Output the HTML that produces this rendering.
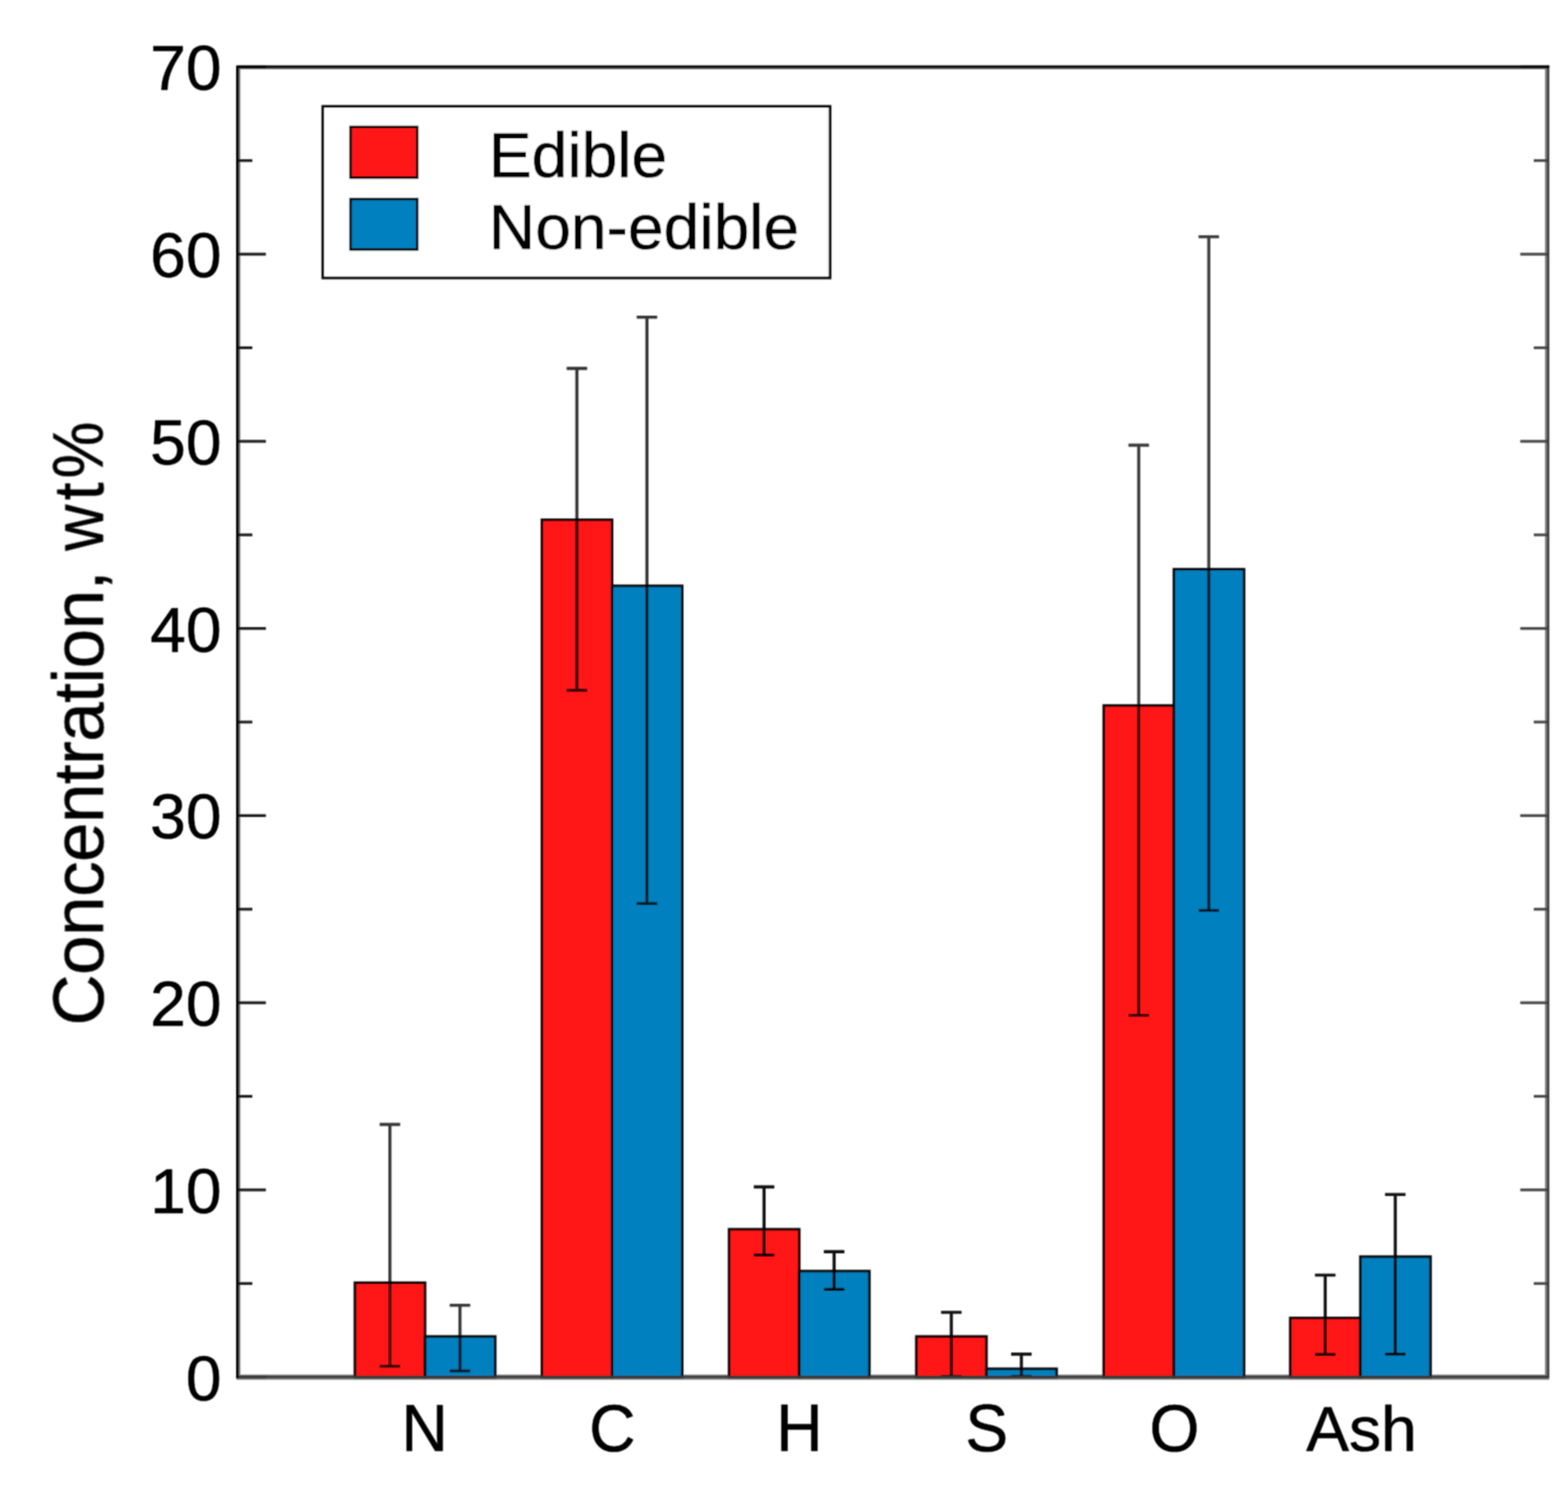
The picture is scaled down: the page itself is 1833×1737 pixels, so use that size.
<!DOCTYPE html>
<html lang="en"><head><meta charset="utf-8"><title>Concentration, wt%</title>
<style>html,body{margin:0;padding:0;background:#fff;}body{width:1833px;height:1737px;overflow:hidden;}svg{display:block;}text{font-family:"Liberation Sans",sans-serif;fill:#000;stroke:#000;stroke-linejoin:miter;}</style></head><body>
<svg width="1833" height="1737" viewBox="0 0 1833 1737">
<rect x="0" y="0" width="1833" height="1737" fill="#ffffff"/>
<defs><filter id="soft" x="0" y="0" width="1833" height="1737" filterUnits="userSpaceOnUse"><feConvolveMatrix order="3" kernelMatrix="1 2 1 2 4 2 1 2 1" divisor="16" edgeMode="duplicate" preserveAlpha="false"/></filter></defs>
<g id="chart" filter="url(#soft)" stroke-width="0.6">
<rect x="279.9" y="80" width="1527.3" height="1527.8" fill="none" stroke="#777" stroke-width="2"/>
<path d="M276.4 1611.9H1811" fill="none" stroke="#999" stroke-width="2"/>
<g stroke="rgba(0,0,0,0.93)" stroke-width="3.1" stroke-linejoin="miter">
<rect x="414.9" y="1499.4" width="82" height="110.4" fill="#ff1418"/>
<rect x="496.9" y="1562.2" width="82" height="47.6" fill="#0080be"/>
<rect x="633.5" y="607.6" width="82" height="1002.2" fill="#ff1418"/>
<rect x="715.5" y="684.8" width="82" height="925.0" fill="#0080be"/>
<rect x="852.3" y="1436.9" width="82" height="172.9" fill="#ff1418"/>
<rect x="934.3" y="1485.8" width="82" height="124.0" fill="#0080be"/>
<rect x="1071.2" y="1562.2" width="82" height="47.6" fill="#ff1418"/>
<rect x="1153.2" y="1600.0" width="82" height="9.8" fill="#0080be"/>
<rect x="1290.3" y="824.7" width="82" height="785.1" fill="#ff1418"/>
<rect x="1372.3" y="665.4" width="82" height="944.4" fill="#0080be"/>
<rect x="1508.3" y="1540.6" width="82" height="69.2" fill="#ff1418"/>
<rect x="1590.3" y="1468.9" width="82" height="140.9" fill="#0080be"/>
</g>
<g stroke="rgba(0,0,0,0.74)" stroke-width="3.6" fill="none">
<path stroke="rgba(0,0,0,0.78)" d="M443.8 1314.4H467.8M455.8 1314.4V1597.0M443.8 1597.0H467.8"/>
<path stroke="rgba(0,0,0,0.78)" d="M525.7 1525.8H549.7M537.7 1525.8V1602.5M525.7 1602.5H549.7"/>
<path stroke="rgba(0,0,0,0.8)" d="M662.4 430.6H686.4M674.4 430.6V806.9M662.4 806.9H686.4"/>
<path stroke="rgba(0,0,0,0.8)" d="M744.3 370.7H768.3M756.3 370.7V1056.3M744.3 1056.3H768.3"/>
<path stroke="rgba(0,0,0,0.94)" d="M881.2 1387.4H905.2M893.2 1387.4V1467.0M881.2 1467.0H905.2"/>
<path stroke="rgba(0,0,0,0.94)" d="M963.1 1463.1H987.1M975.1 1463.1V1507.2M963.1 1507.2H987.1"/>
<path stroke="rgba(0,0,0,0.92)" d="M1100.1 1534.0H1124.1M1112.1 1534.0V1609.0M1100.1 1609.0H1124.1"/>
<path stroke="rgba(0,0,0,0.92)" d="M1182.0 1582.9H1206.0M1194.0 1582.9V1609.0M1182.0 1609.0H1206.0"/>
<path stroke="rgba(0,0,0,0.76)" d="M1319.2 520.4H1343.2M1331.2 520.4V1186.7M1319.2 1186.7H1343.2"/>
<path stroke="rgba(0,0,0,0.76)" d="M1401.1 276.7H1425.1M1413.1 276.7V1064.2M1401.1 1064.2H1425.1"/>
<path stroke="rgba(0,0,0,0.92)" d="M1537.2 1490.5H1561.2M1549.2 1490.5V1583.2M1537.2 1583.2H1561.2"/>
<path stroke="rgba(0,0,0,0.92)" d="M1619.1 1396.2H1643.1M1631.1 1396.2V1582.8M1619.1 1582.8H1643.1"/>
</g>
<g stroke="#1c1c1c" stroke-width="3.2">
<path d="M278.2 1609.7h32.6"/>
<path stroke="#484848" d="M1809.8 1609.7h-32.6"/>
<path d="M278.2 1500.3h16.8"/>
<path stroke="#484848" d="M1809.8 1500.3h-16.8"/>
<path d="M278.2 1390.9h32.6"/>
<path stroke="#484848" d="M1809.8 1390.9h-32.6"/>
<path d="M278.2 1281.5h16.8"/>
<path stroke="#484848" d="M1809.8 1281.5h-16.8"/>
<path d="M278.2 1172.2h32.6"/>
<path stroke="#484848" d="M1809.8 1172.2h-32.6"/>
<path d="M278.2 1062.8h16.8"/>
<path stroke="#484848" d="M1809.8 1062.8h-16.8"/>
<path d="M278.2 953.4h32.6"/>
<path stroke="#484848" d="M1809.8 953.4h-32.6"/>
<path d="M278.2 844.0h16.8"/>
<path stroke="#484848" d="M1809.8 844.0h-16.8"/>
<path d="M278.2 734.6h32.6"/>
<path stroke="#484848" d="M1809.8 734.6h-32.6"/>
<path d="M278.2 625.2h16.8"/>
<path stroke="#484848" d="M1809.8 625.2h-16.8"/>
<path d="M278.2 515.8h32.6"/>
<path stroke="#484848" d="M1809.8 515.8h-32.6"/>
<path d="M278.2 406.5h16.8"/>
<path stroke="#484848" d="M1809.8 406.5h-16.8"/>
<path d="M278.2 297.1h32.6"/>
<path stroke="#484848" d="M1809.8 297.1h-32.6"/>
<path d="M278.2 187.7h16.8"/>
<path stroke="#484848" d="M1809.8 187.7h-16.8"/>
<path d="M278.2 78.3h32.6"/>
<path stroke="#484848" d="M1809.8 78.3h-32.6"/>
</g>
<path d="M1809.7 76.5V1611.3M276.1 1609.8H1811.2" fill="none" stroke="#3a3a3a" stroke-width="2.9"/>
<path d="M277.6 1611.3V78H1811.2" fill="none" stroke="#000" stroke-width="3.1"/>
<g font-size="75" text-anchor="end">
<text x="259" y="1636.7">0</text>
<text x="259" y="1417.9">10</text>
<text x="259" y="1199.2">20</text>
<text x="259" y="980.4">30</text>
<text x="259" y="761.6">40</text>
<text x="259" y="542.8">50</text>
<text x="259" y="324.1">60</text>
<text x="259" y="105.3">70</text>
</g>
<g font-size="75" text-anchor="middle">
<text transform="translate(496.3 1695.8) scale(1 1.04)">N</text>
<text transform="translate(715.9 1695.8) scale(1 1.04)">C</text>
<text transform="translate(934.7 1695.8) scale(1 1.04)">H</text>
<text transform="translate(1153.6 1695.8) scale(1 1.04)">S</text>
<text transform="translate(1372.9 1695.8) scale(1 1.04)">O</text>
<text x="1591.7" y="1695.8">Ash</text>
</g>
<text font-size="83" letter-spacing="-0.62" text-anchor="start" transform="translate(120.4 1198.8) rotate(-90)">Concentration, <tspan dx="1.5" letter-spacing="5.4" textLength="155.7" lengthAdjust="spacingAndGlyphs">wt%</tspan></text>
<rect x="377.4" y="124.4" width="592.9" height="200.4" fill="#fff" stroke="#0a0a0a" stroke-width="3.2"/>
<rect x="409.8" y="148.3" width="78" height="59.4" fill="#ff1418" stroke="#000" stroke-width="2.9"/>
<rect x="409.8" y="232.7" width="78" height="59" fill="#0080be" stroke="#000" stroke-width="2.9"/>
<g font-size="75" stroke-width="0.7">
<text x="571.5" y="207">Edible</text>
<text x="571.5" y="291">Non-edible</text>
</g>
</g></svg></body></html>
